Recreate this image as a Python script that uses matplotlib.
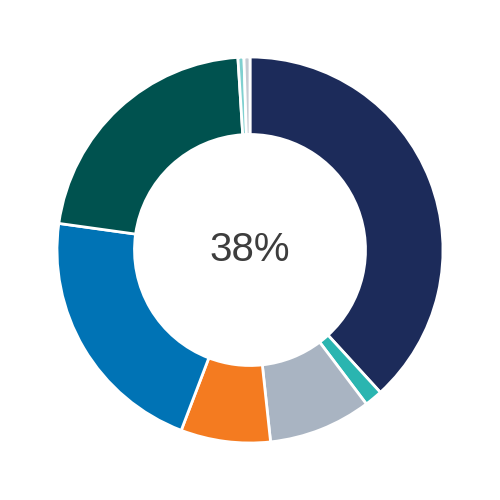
import matplotlib
matplotlib.use("Agg")
import matplotlib.pyplot as plt

labels = ["A", "B", "C", "D", "E", "F", "G", "H"]
values = [38.2, 1.5, 8.6, 7.5, 21.4, 21.8, 0.5, 0.5]
colors = ["#1c2b5a", "#2ab5b0", "#a9b4c2", "#f47b20", "#0073b5", "#00524f", "#7fd0d0", "#c5cbd3"]
center_text = "38%"

fig = plt.figure(figsize=(5, 5), dpi=100)
ax = fig.add_axes([0, 0, 1, 1])
ax.pie(values, colors=colors, startangle=90, counterclock=False, radius=0.772,
       wedgeprops=dict(width=0.31, edgecolor="white", linewidth=2))
ax.text(0, 0, center_text, ha="center", va="center", fontsize=29, color="#3d3d3d",
        family="Liberation Sans")
ax.set_xlim(-1, 1); ax.set_ylim(-1, 1)
ax.set_aspect("equal")
ax.axis("off")
fig.savefig("out.png", dpi=100, facecolor="white")
